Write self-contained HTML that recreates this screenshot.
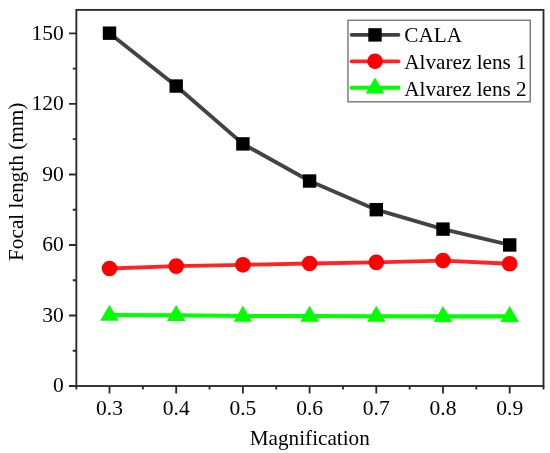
<!DOCTYPE html><html><head><meta charset="utf-8"><style>html,body{margin:0;padding:0;background:#fff;}svg{display:block;}text{font-family:"Liberation Serif","Times New Roman",serif;fill:#000;}</style></head><body>
<svg width="550" height="453" viewBox="0 0 550 453">
<rect x="0" y="0" width="550" height="453" fill="#fff"/>
<polyline points="109.50,33.17 176.20,86.06 242.90,143.89 309.60,181.03 376.30,209.70 443.00,229.10 509.70,244.96" fill="none" stroke="#434343" stroke-width="3.9" stroke-linejoin="round" stroke-linecap="round"/>
<polyline points="109.50,268.47 176.20,266.12 242.90,264.83 309.60,263.53 376.30,262.36 443.00,260.60 509.70,263.77" fill="none" stroke="#ff2424" stroke-width="3.9" stroke-linejoin="round" stroke-linecap="round"/>
<polyline points="109.50,315.01 176.20,315.25 242.90,315.95 309.60,315.95 376.30,316.19 443.00,316.42 509.70,316.42" fill="none" stroke="#00ff00" stroke-width="4.1" stroke-linejoin="round" stroke-linecap="round"/>
<rect x="102.80" y="26.47" width="13.4" height="13.4" fill="#000"/>
<rect x="169.50" y="79.36" width="13.4" height="13.4" fill="#000"/>
<rect x="236.20" y="137.19" width="13.4" height="13.4" fill="#000"/>
<rect x="302.90" y="174.33" width="13.4" height="13.4" fill="#000"/>
<rect x="369.60" y="203.00" width="13.4" height="13.4" fill="#000"/>
<rect x="436.30" y="222.40" width="13.4" height="13.4" fill="#000"/>
<rect x="503.00" y="238.26" width="13.4" height="13.4" fill="#000"/>
<circle cx="109.50" cy="268.47" r="7.8" fill="#ff0000"/>
<circle cx="176.20" cy="266.12" r="7.8" fill="#ff0000"/>
<circle cx="242.90" cy="264.83" r="7.8" fill="#ff0000"/>
<circle cx="309.60" cy="263.53" r="7.8" fill="#ff0000"/>
<circle cx="376.30" cy="262.36" r="7.8" fill="#ff0000"/>
<circle cx="443.00" cy="260.60" r="7.8" fill="#ff0000"/>
<circle cx="509.70" cy="263.77" r="7.8" fill="#ff0000"/>
<polygon points="109.50,304.69 100.20,320.69 118.80,320.69" fill="#00ff00"/>
<polygon points="176.20,304.93 166.90,320.93 185.50,320.93" fill="#00ff00"/>
<polygon points="242.90,305.63 233.60,321.63 252.20,321.63" fill="#00ff00"/>
<polygon points="309.60,305.63 300.30,321.63 318.90,321.63" fill="#00ff00"/>
<polygon points="376.30,305.87 367.00,321.87 385.60,321.87" fill="#00ff00"/>
<polygon points="443.00,306.10 433.70,322.10 452.30,322.10" fill="#00ff00"/>
<polygon points="509.70,306.10 500.40,322.10 519.00,322.10" fill="#00ff00"/>
<rect x="76.35" y="9.9" width="467.15" height="376.1" fill="none" stroke="#2a2a2a" stroke-width="1.85"/>
<path d="M68.95,386.00H76.35M72.75,350.74H76.35M68.95,315.48H76.35M72.75,280.22H76.35M68.95,244.96H76.35M72.75,209.70H76.35M68.95,174.45H76.35M72.75,139.19H76.35M68.95,103.93H76.35M72.75,68.67H76.35M68.95,33.41H76.35M76.35,386.00V389.60M109.50,386.00V393.40M142.85,386.00V389.60M176.20,386.00V393.40M209.55,386.00V389.60M242.90,386.00V393.40M276.25,386.00V389.60M309.60,386.00V393.40M342.95,386.00V389.60M376.30,386.00V393.40M409.65,386.00V389.60M443.00,386.00V393.40M476.35,386.00V389.60M509.70,386.00V393.40M543.50,386.00V389.60" stroke="#2a2a2a" stroke-width="1.85" fill="none"/>
<text x="63.8" y="392.40" font-size="21.5" text-anchor="end">0</text>
<text x="63.8" y="321.88" font-size="21.5" text-anchor="end">30</text>
<text x="63.8" y="251.36" font-size="21.5" text-anchor="end">60</text>
<text x="63.8" y="180.85" font-size="21.5" text-anchor="end">90</text>
<text x="63.8" y="110.33" font-size="21.5" text-anchor="end">120</text>
<text x="63.8" y="39.81" font-size="21.5" text-anchor="end">150</text>
<text x="109.50" y="415.2" font-size="21.5" text-anchor="middle">0.3</text>
<text x="176.20" y="415.2" font-size="21.5" text-anchor="middle">0.4</text>
<text x="242.90" y="415.2" font-size="21.5" text-anchor="middle">0.5</text>
<text x="309.60" y="415.2" font-size="21.5" text-anchor="middle">0.6</text>
<text x="376.30" y="415.2" font-size="21.5" text-anchor="middle">0.7</text>
<text x="443.00" y="415.2" font-size="21.5" text-anchor="middle">0.8</text>
<text x="509.70" y="415.2" font-size="21.5" text-anchor="middle">0.9</text>
<text x="309.8" y="445.4" font-size="21.2" text-anchor="middle">Magnification</text>
<text transform="translate(23.4,181.8) rotate(-90)" x="0" y="0" font-size="21.3" text-anchor="middle">Focal length (mm)</text>
<rect x="347.95" y="20.3" width="182.3" height="81.5" fill="#fff" stroke="#7a7a7a" stroke-width="1.45"/>
<line x1="351.6" y1="34.9" x2="398.6" y2="34.9" stroke="#404040" stroke-width="3.6" stroke-linecap="round"/>
<line x1="351.6" y1="61.3" x2="398.6" y2="61.3" stroke="#ff2424" stroke-width="3.8" stroke-linecap="round"/>
<line x1="351.6" y1="87.8" x2="398.6" y2="87.8" stroke="#00ff00" stroke-width="4.0" stroke-linecap="round"/>
<rect x="368.3" y="28.2" width="13.4" height="13.4" fill="#000"/>
<circle cx="375" cy="61.3" r="7.8" fill="#ff0000"/>
<polygon points="375.00,77.48 365.70,93.48 384.30,93.48" fill="#00ff00"/>
<text x="404.3" y="42.10" font-size="21.2">CALA</text>
<text x="404.3" y="69.00" font-size="21.2">Alvarez lens 1</text>
<text x="404.3" y="95.90" font-size="21.2">Alvarez lens 2</text>
</svg></body></html>
